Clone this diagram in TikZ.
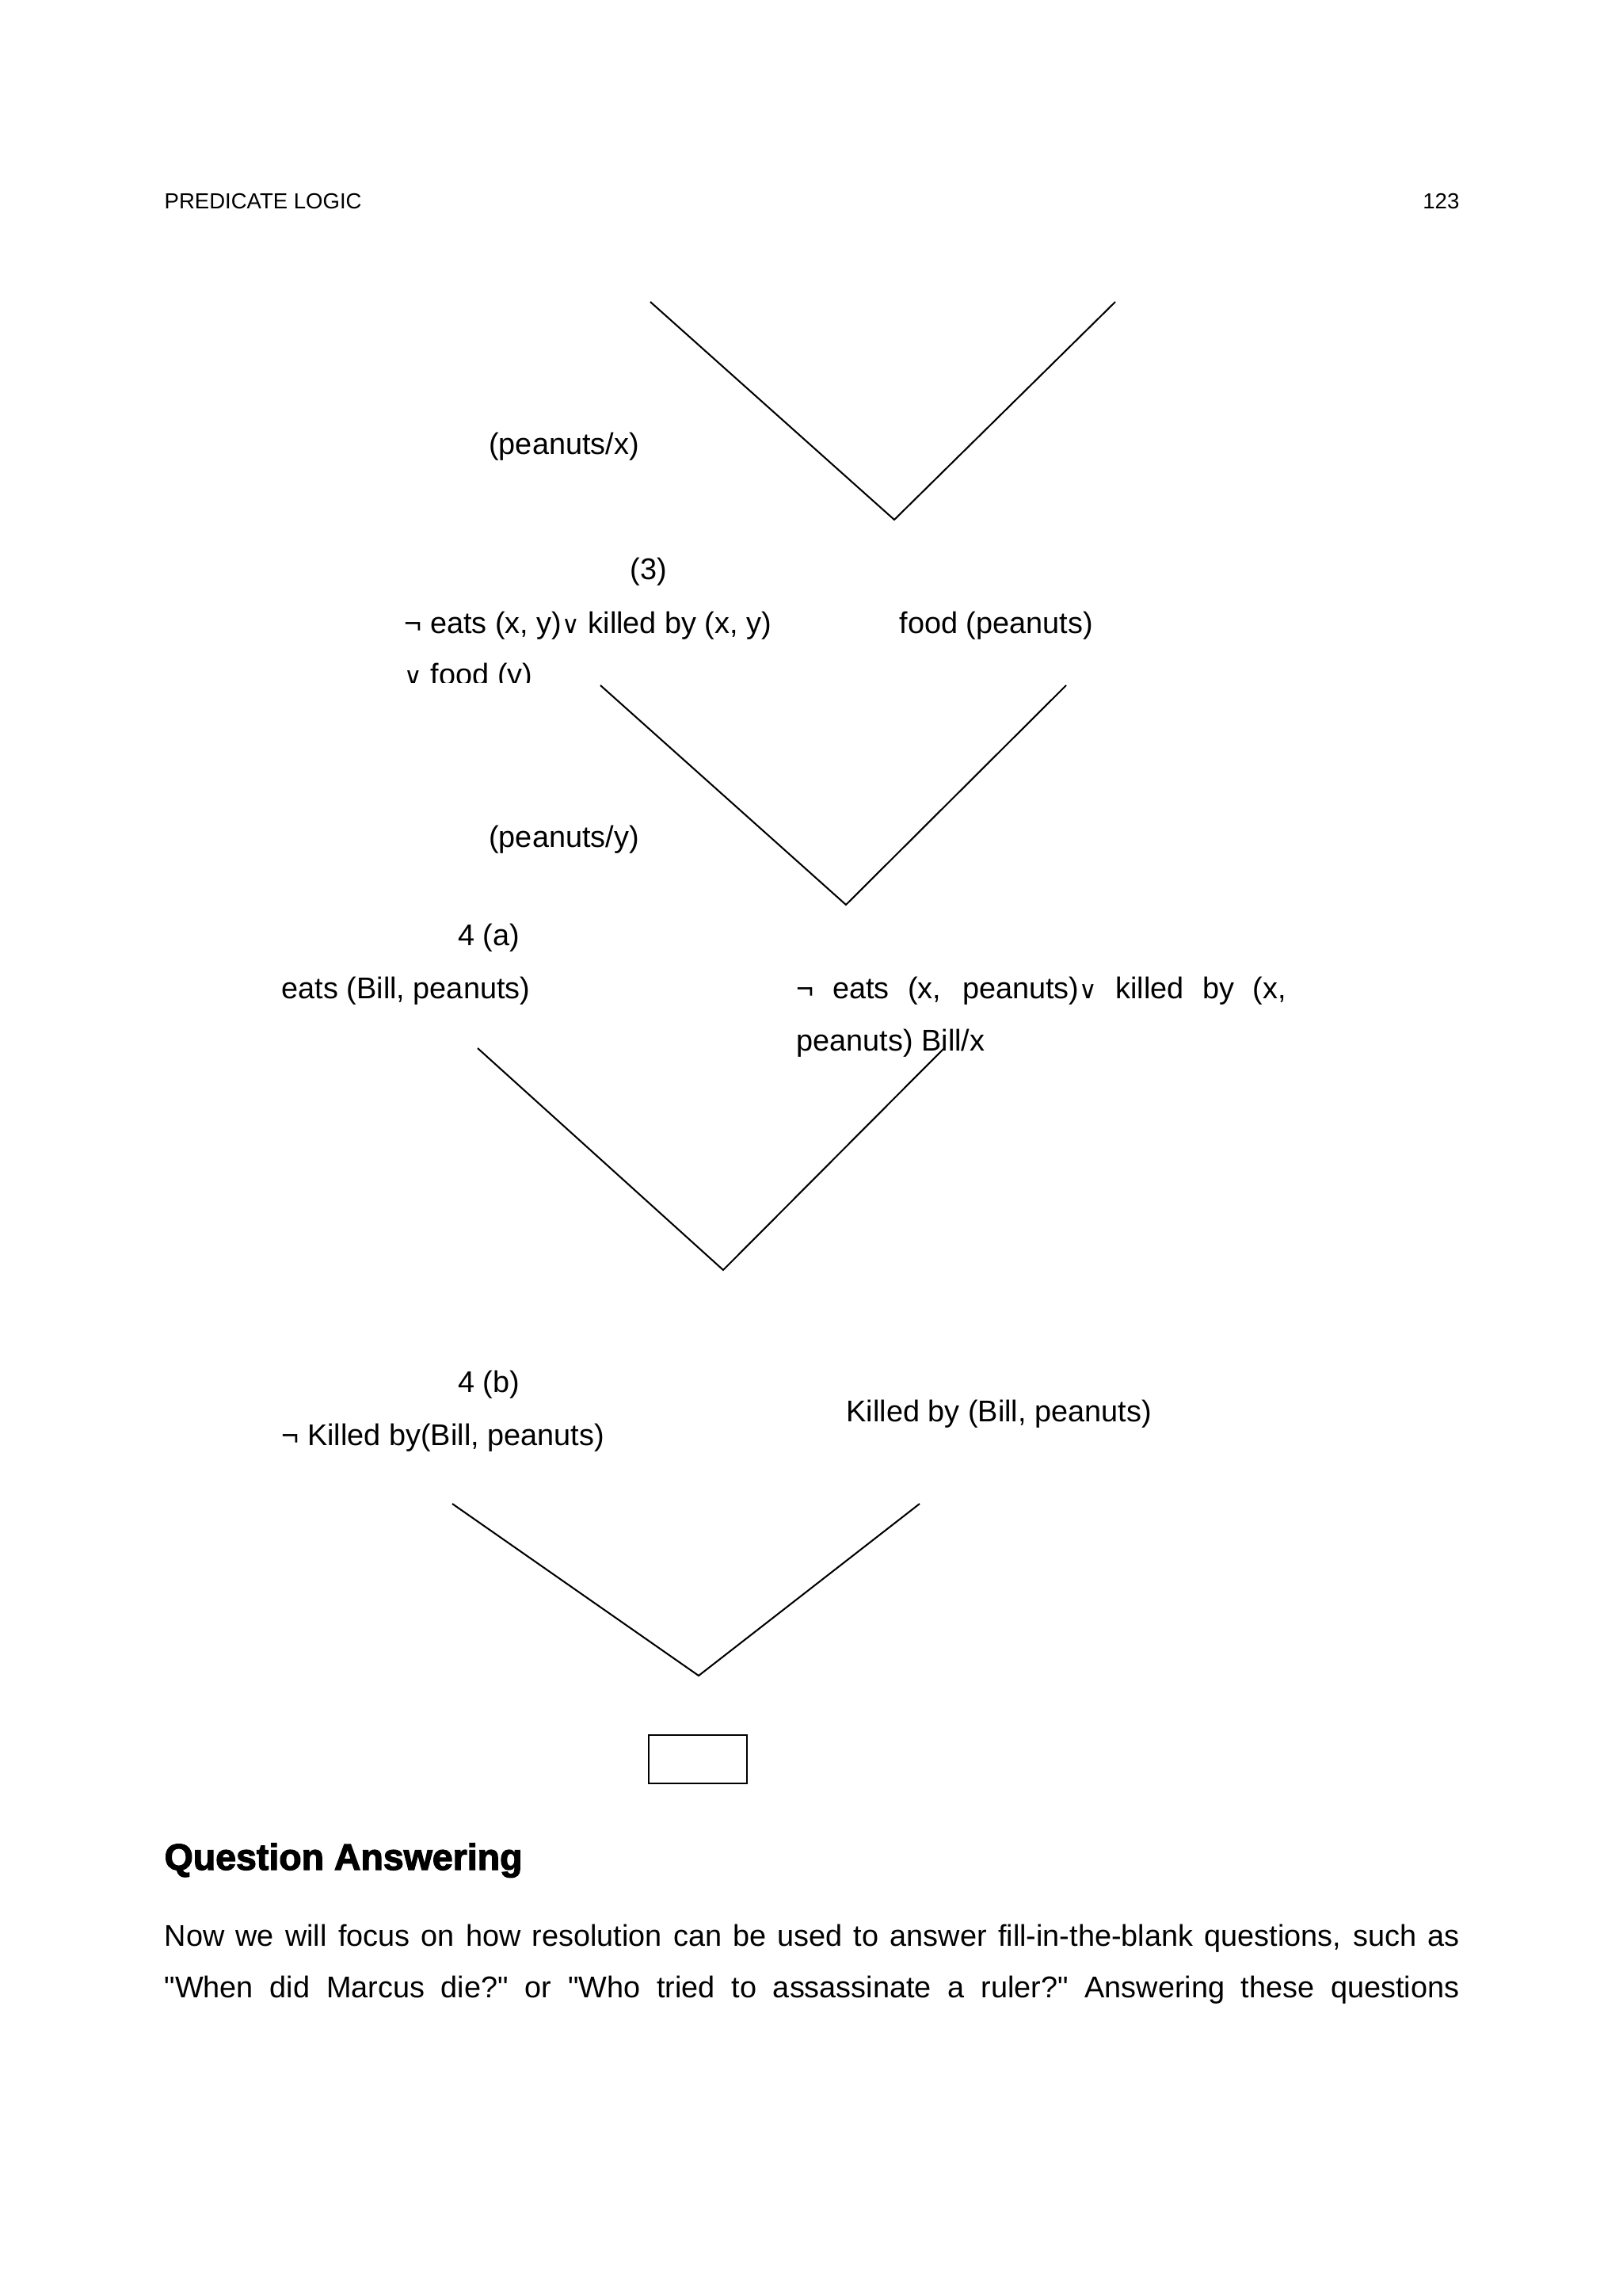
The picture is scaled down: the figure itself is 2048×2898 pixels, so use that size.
\documentclass[tikz,border=0pt]{standalone}
\usepackage{fontspec}
\setmainfont{Liberation Sans}
\newfontfamily\symfont{DejaVu Sans}
\newfontfamily\heavyfont[BoldFeatures={FakeBold=2.6}]{Liberation Sans}
\newcommand{\orsym}{{\symfont\fontsize{9pt}{9pt}\selectfont ∨}}
\newcommand{\negsym}{¬}
\begin{document}
\begin{tikzpicture}[x=0.29053pt,y=-0.29053pt,
  txt/.style={inner sep=0pt, font=\fontsize{11pt}{19pt}\selectfont, anchor=base west},
  ctxt/.style={txt, anchor=base},
  hdr/.style={inner sep=0pt, font=\fontsize{8pt}{10pt}\selectfont, anchor=base west},
  vline/.style={line width=0.6pt, line join=miter},
  emptybox/.style={draw, line width=0.8pt, minimum width=36pt, minimum height=17.7pt, inner sep=0pt}]
\useasboundingbox (0,0) rectangle (2048,2898);

% header
\node[hdr] (head) at (207,264) {PREDICATE LOGIC};
\node[hdr, anchor=base east] (page) at (1843,264) {123};

% V1
\coordinate (v1l) at (821,381);
\coordinate (v1b) at (1129,656);
\coordinate (v1r) at (1408,381);
\draw[vline] (v1l) -- (v1b) -- (v1r);
\node[ctxt] (s1) at (712,574) {(peanuts/x)};

% step (3)
\node[ctxt] (n3) at (819,731) {(3)};
\node[txt] (c3a) at (510,799) {\negsym\ eats (x, y)\orsym\ killed by (x, y)};
\begin{scope}
\clip (480,780) rectangle (800,861);
\node[txt] (c3b) at (510,864) {\orsym\ food (y)};
\end{scope}
\node[txt] (f3) at (1135,799) {food (peanuts)};

% V2
\coordinate (v2l) at (758,865);
\coordinate (v2b) at (1068,1142);
\coordinate (v2r) at (1346,865);
\draw[vline] (v2l) -- (v2b) -- (v2r);
\node[ctxt] (s2) at (712,1069) {(peanuts/y)};

% step 4(a)
\node[ctxt] (n4a) at (617,1193) {4 (a)};
\node[txt] (e4a) at (355,1260) {eats (Bill, peanuts)};
\node[txt] (r4a) at (1005,1260) {\makebox[179.6pt][s]{\negsym\ eats (x, peanuts)\orsym\ killed by (x,}};
\node[txt] (r4b) at (1005,1326) {peanuts) Bill/x};

% V3
\coordinate (v3l) at (603,1323);
\coordinate (v3b) at (913,1603);
\coordinate (v3r) at (1192,1323);
\draw[vline] (v3l) -- (v3b) -- (v3r);

% step 4(b)
\node[ctxt] (n4b) at (617,1757) {4 (b)};
\node[txt] (k4b) at (355,1824) {\negsym\ Killed by(Bill, peanuts)};
\node[txt] (k4r) at (1068,1794) {Killed by (Bill, peanuts)};

% V4
\coordinate (v4l) at (571,1898);
\coordinate (v4b) at (882,2115);
\coordinate (v4r) at (1161,1898);
\draw[vline] (v4l) -- (v4b) -- (v4r);

% empty clause
\node[emptybox] (empty) at (881,2220.5) {};

% following text
\node[inner sep=0pt, anchor=base west, font=\fontsize{13.5pt}{16pt}\heavyfont\bfseries] (qa) at (207,2360) {Question Answering};
\node[txt] (p1) at (207,2456) {\makebox[475pt][s]{Now we will focus on how resolution can be used to answer fill-in-the-blank questions, such as}};
\node[txt] (p2) at (207,2521) {\makebox[475pt][s]{\textquotedbl When did Marcus die?\textquotedbl\ or \textquotedbl Who tried to assassinate a ruler?\textquotedbl\ Answering these questions}};
\end{tikzpicture}
\end{document}
